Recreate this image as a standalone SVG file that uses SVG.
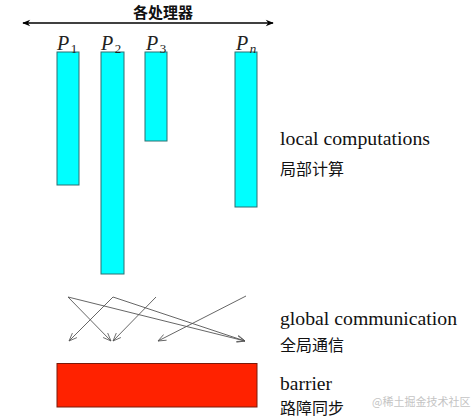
<svg xmlns="http://www.w3.org/2000/svg" width="474" height="420" viewBox="0 0 474 420">
<defs>
<style>
.bar{fill:#00ffff;stroke:#2f6f70;stroke-width:1}
.pl{font-family:"Liberation Serif","DejaVu Serif",serif;font-style:italic;font-size:20px;fill:#222}
.sub{font-family:"Liberation Serif","DejaVu Serif",serif;font-size:13px;fill:#222}
.en{font-family:"Liberation Serif","DejaVu Serif",serif;font-size:19px;fill:#111}
.zh{font-family:"Noto Sans CJK SC",sans-serif;font-size:16px;fill:#111}
.comm{stroke:#555;stroke-width:0.9;fill:none;marker-end:url(#open)}
</style>
<marker id="solid" viewBox="0 0 10 10" refX="9" refY="5" markerWidth="10" markerHeight="8" markerUnits="userSpaceOnUse" orient="auto-start-reverse">
<path d="M0,1 L10,5 L0,9 L3,5 Z" fill="#000"/>
</marker>
<marker id="open" viewBox="0 0 10 10" refX="10" refY="5" markerWidth="9" markerHeight="8" markerUnits="userSpaceOnUse" orient="auto">
<path d="M0,1 L10,5 L0,9" fill="none" stroke="#555" stroke-width="1"/>
</marker>
</defs>
<rect width="474" height="420" fill="#fff"/>
<g id="header">
<text x="163" y="18" text-anchor="middle" font-family="Noto Sans CJK SC,sans-serif" font-weight="bold" font-size="15" fill="#111">各处理器</text>
<line x1="23" y1="23" x2="273" y2="23" stroke="#000" stroke-width="1.3" marker-start="url(#solid)" marker-end="url(#solid)"/>
</g>
<g id="p1">
<rect class="bar" x="57" y="52" width="22" height="133"/>
<text class="pl" x="57" y="50">P<tspan class="sub" dx="1.5" dy="3" font-style="normal">1</tspan></text>
</g>
<g id="p2">
<rect class="bar" x="101" y="52" width="23" height="222"/>
<text class="pl" x="101" y="50">P<tspan class="sub" dx="1.5" dy="3" font-style="normal">2</tspan></text>
</g>
<g id="p3">
<rect class="bar" x="145" y="52" width="22" height="89"/>
<text class="pl" x="146" y="50">P<tspan class="sub" dx="1.5" dy="3" font-style="normal">3</tspan></text>
</g>
<g id="pn">
<rect class="bar" x="235" y="52" width="22" height="155"/>
<text class="pl" x="236" y="50">P<tspan class="sub" dx="1.5" dy="3" font-style="italic">n</tspan></text>
</g>
<g id="connectors">
<line class="comm" x1="68" y1="297" x2="111" y2="341"/>
<line class="comm" x1="68" y1="297" x2="245" y2="341"/>
<line class="comm" x1="113" y1="297" x2="69" y2="341"/>
<line class="comm" x1="113" y1="297" x2="245" y2="341"/>
<line class="comm" x1="156" y1="297" x2="113" y2="341"/>
<line class="comm" x1="246" y1="296" x2="158" y2="341"/>
</g>
<g id="barrier">
<rect x="57" y="363.5" width="200" height="43.5" fill="#ff2200" stroke="#7a1a0a" stroke-width="1"/>
</g>
<g id="labels">
<text class="en" x="280" y="145" textLength="150" lengthAdjust="spacingAndGlyphs">local computations</text>
<text class="zh" x="280" y="175">局部计算</text>
<text class="en" x="280" y="325" textLength="177" lengthAdjust="spacingAndGlyphs">global communication</text>
<text class="zh" x="280" y="351">全局通信</text>
<text class="en" x="280" y="390" textLength="52" lengthAdjust="spacingAndGlyphs">barrier</text>
<text class="zh" x="280" y="414">路障同步</text>
<text x="372" y="406" font-family="Noto Sans CJK SC,sans-serif" font-size="11" fill="#c4c4c4">@稀土掘金技术社区</text>
</g>
</svg>
